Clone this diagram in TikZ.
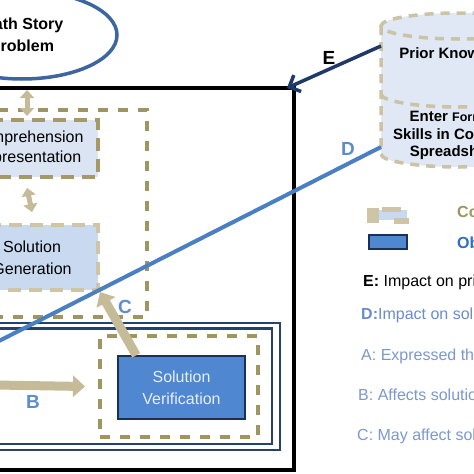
\documentclass[tikz,border=0pt]{standalone}
\usepackage{fontspec}
\setmainfont{Liberation Sans}
\usetikzlibrary{arrows.meta,shapes.geometric}
\definecolor{storyblue}{HTML}{3D65A0}
\definecolor{regionkhaki}{HTML}{9F9562}
\definecolor{compkhaki}{HTML}{A59A66}
\definecolor{genkhaki}{HTML}{CDC5A5}
\definecolor{cylkhaki}{HTML}{CBC3A3}
\definecolor{arrowtan}{HTML}{C5BB98}
\definecolor{compfill}{HTML}{DAE4F3}
\definecolor{genfill}{HTML}{C8D9F0}
\definecolor{cylfill}{HTML}{DFE8F4}
\definecolor{verfill}{HTML}{4F87D0}
\definecolor{verborder}{HTML}{1C2F55}
\definecolor{vertext}{HTML}{E8EEF8}
\definecolor{navyline}{HTML}{23426F}
\definecolor{earrowblue}{HTML}{1F3A68}
\definecolor{dlineblue}{HTML}{4A7FC1}
\definecolor{lblblue}{HTML}{5C8DD3}
\definecolor{dtext}{HTML}{6A8CCF}
\definecolor{abctext}{HTML}{7C98CD}
\definecolor{obsblue}{HTML}{2F6EC2}
\begin{document}
\begin{tikzpicture}[x=1pt,y=-1pt,
    frame/.style={draw=black, line width=3.5pt},
    region/.style={draw=regionkhaki, line width=4pt, dash pattern=on 10pt off 10pt},
    dblue/.style={draw=navyline, line width=2.2pt},
    compbox/.style={rectangle, fill=compfill, draw=compkhaki, line width=4pt,
        dash pattern=on 13pt off 8pt, minimum width=142pt, minimum height=57pt,
        align=center, font=\fontsize{16}{19.5}\selectfont},
    genbox/.style={compbox, fill=genfill, draw=genkhaki, minimum width=132pt,
        minimum height=65pt, font=\fontsize{16}{22}\selectfont},
    verbox/.style={rectangle, fill=verfill, draw=verborder, line width=1.5pt,
        text=vertext, minimum width=127pt, minimum height=63pt, align=center,
        font=\fontsize{16}{22}\selectfont},
    story/.style={ellipse, draw=storyblue, line width=3.5pt, minimum width=190pt,
        minimum height=88pt, inner sep=0pt, align=center,
        font=\bfseries\fontsize{16}{22}\selectfont},
    fatarrow/.style={draw=arrowtan, line width=9pt, -{Triangle[length=12pt,width=21pt]}},
    dblarrow/.style={draw=arrowtan, line width=5pt,
        {Triangle[length=8pt,width=14pt]}-{Triangle[length=8pt,width=14pt]}},
    earrow/.style={draw=earrowblue, line width=3.5pt, -{Straight Barb[length=9pt,width=18pt]}},
    dline/.style={draw=dlineblue, line width=4pt},
    lbl/.style={font=\bfseries\fontsize{19}{19}\selectfont, text=lblblue},
    cylline/.style={draw=cylkhaki, line width=3.5pt, dash pattern=on 9pt off 7pt},
    cyltext/.style={align=center, font=\bfseries\fontsize{15}{17.5}\selectfont},
    legtext/.style={anchor=base west, inner sep=0pt, font=\fontsize{16}{16}\selectfont}]
    \useasboundingbox (0,0) rectangle (474,474);
    \clip (0,0) rectangle (474,474);
    \fill[white] (0,0) rectangle (474,474);

    % Outer frame
    \coordinate (frameNE) at (294,88);
    \draw[frame] (-10,88) -- (frameNE) -- (294,470) -- (-10,470);

    % Dashed regions
    \draw[region] (-40,110) rectangle (147,317);
    \draw[dblue] (-20,323) -- (280,323) -- (280,450) -- (-20,450);
    \draw[dblue] (-20,328.5) -- (272,328.5) -- (272,444) -- (-20,444);
    \node[region, minimum width=158pt, minimum height=101pt] (vbox) at (179,386.5) {};

    % Math story problem
    \node[story] (story) at (22,35) {Math Story\\Problem};

    % Steps
    \node[compbox] (comp) at (27,148.5) {Comprehension\\Representation};
    \node[genbox] (gen) at (32,257.5) {Solution\\Generation};
    \node[verbox] (ver) at (181.5,387.5) {Solution\\Verification};

    % Prior knowledge cylinder
    \fill[cylfill] (381,26) -- (381,154) arc[start angle=180, end angle=0, x radius=78, y radius=13]
        -- (537,26) -- cycle;
    \fill[cylfill] (459,26) ellipse[x radius=78, y radius=13];
    \draw[cylline] (459,26) ellipse[x radius=78, y radius=13];
    \draw[cylline] (381,26) -- (381,154) arc[start angle=180, end angle=0, x radius=78, y radius=13];
    \draw[cylline] (381,94) arc[start angle=180, end angle=0, x radius=78, y radius=13];
    \node[cyltext, anchor=base] (prior) at (459,58) {Prior Knowledge};
    \node[cyltext] (skills) at (459,135.5)
        {Enter {\fontsize{12.5}{17.5}\selectfont Formulas}\\Skills in Computer\\Spreadsheets};
    \coordinate (cylE) at (381,46);
    \coordinate (cylD) at (381,147);

    % Connectors
    \draw[dblarrow] (27,90) -- ([yshift=2pt]comp.north);
    \draw[dblarrow] ([yshift=-9pt]comp.south) -- ([yshift=11pt]gen.north);
    \coordinate (bstart) at (-5,385);
    \draw[fatarrow] (bstart) -- ([xshift=-13pt]vbox.west);
    \draw[fatarrow] ([xshift=19pt]ver.north west) -- (gen.south east);
    \coordinate (dend) at (-5,343);
    \draw[dline] (cylD) -- (dend);
    \draw[earrow] (cylE) -- ([xshift=-7pt]frameNE);

    % Labels
    \node[lbl] (labB) at (33,402) {B};
    \node[lbl] (labC) at (125,307) {C};
    \node[lbl] (labD) at (348,149) {D};
    \node[lbl, text=black] (labE) at (329,58) {E};

    % Legend
    \fill[genfill] (379,210) rectangle (407,220);
    \fill[genkhaki] (367,208) rectangle (379,223);
    \fill[genkhaki] (382,207) rectangle (401,212);
    \fill[genkhaki] (394,218) rectangle (409,224);
    \node[rectangle, fill=verfill, draw=verborder, line width=1.5pt,
        minimum width=38pt, minimum height=14pt] (legver) at (388,242) {};
    \node[legtext, text=regionkhaki, font=\bfseries\fontsize{16}{16}\selectfont] (legcog) at (457,217) {Cognitive};
    \node[legtext, text=obsblue, font=\bfseries\fontsize{16}{16}\selectfont] (legobs) at (457,248) {Observable};
    \node[legtext] (legE) at (363,286) {\textbf{E:} Impact on prior knowledge};
    \node[legtext, text=dtext] (legD) at (361,319) {\textbf{D:}Impact on solution};
    \node[legtext, text=abctext] (legA) at (361,360) {A: Expressed through};
    \node[legtext, text=abctext] (legB) at (358,400) {B: Affects solution};
    \node[legtext, text=abctext] (legC) at (357,440) {C: May affect solution};
\end{tikzpicture}
\end{document}
